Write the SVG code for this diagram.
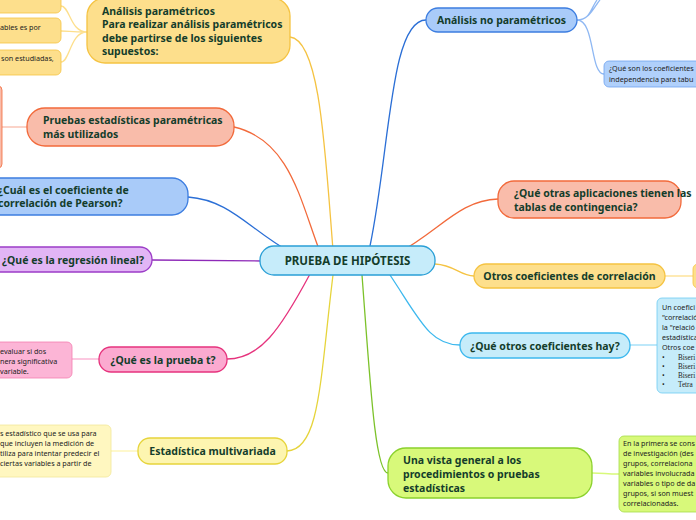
<svg xmlns="http://www.w3.org/2000/svg" width="696" height="520" viewBox="0 0 696 520">
<style>
.t{font-family:"Noto Sans","Open Sans",sans-serif;font-weight:bold;font-size:10.5px;fill:#143d2b}
.s{font-family:"Noto Sans","Open Sans",sans-serif;font-size:7.2px;fill:#222}
.c{fill:none;stroke-width:1.3}
</style>
<rect width="696" height="520" fill="#fff"/>
<g id="connectors">
<path class="c" stroke="#f5c342" d="M333,250 C325,150 320,40 290,37"/>
<path class="c" stroke="#f26a3b" d="M320,252 C300,200 290,140 234,127"/>
<path class="c" stroke="#2b6fd6" d="M290,252 C250,230 230,200 188,197"/>
<path class="c" stroke="#8e2ab8" d="M262,261 L152,260"/>
<path class="c" stroke="#e6337d" d="M310,274 C280,330 260,359 227,359"/>
<path class="c" stroke="#e6d43b" d="M333,275 C320,380 320,450 287,451"/>
<path class="c" stroke="#2b6fd6" d="M370,246 C390,150 390,20 426,20"/>
<path class="c" stroke="#f26a3b" d="M400,252 C440,230 460,200 498,199"/>
<path class="c" stroke="#f5c342" d="M435,264 C455,265 460,276 474,276"/>
<path class="c" stroke="#3cb8ee" d="M390,275 C420,320 430,345 460,345"/>
<path class="c" stroke="#7cc22a" d="M362,275 C370,380 375,473 388,473"/>
<path class="c" stroke="#fddf8c" d="M87,32 C70,32 70,6 61,6 M87,32 C70,32 70,31 61,31 M87,32 C70,32 70,62 61,62"/>
<path class="c" stroke="#f9bcaa" d="M27,127 L2,127"/>
<path class="c" stroke="#fbaad0" d="M99,359 L72,359"/>
<path class="c" stroke="#fdf5b0" d="M138,451 L111,451"/>
<path class="c" stroke="#8fb8f3" d="M577,20 C590,20 590,10 597,0 M577,20 C590,20 595,5 600,0 M577,20 C595,20 590,74 604,74"/>
<path class="c" stroke="#fddf8c" d="M665,276 L693,276"/>
<path class="c" stroke="#9adcf7" d="M630,345 L657,345"/>
<path class="c" stroke="#d8f97a" d="M592,473 C605,473 605,474 619,474"/>
</g>
<g id="sub">
<rect x="-10" y="-12" width="71" height="25" rx="5" fill="#fddf8c" stroke="#f5c342" stroke-width="0.8"/>
<rect x="-10" y="18" width="71" height="25" rx="5" fill="#fddf8c" stroke="#f5c342" stroke-width="0.8"/>
<text class="s" x="0" y="30">ables es por</text>
<rect x="-10" y="50" width="71" height="25" rx="5" fill="#fddf8c" stroke="#f5c342" stroke-width="0.8"/>
<text class="s" x="1" y="61">son estudiadas,</text>
<rect x="-10" y="86" width="12" height="82" rx="4" fill="#f9bcaa" stroke="#f26a3b" stroke-width="0.8"/>
<rect x="-10" y="342" width="82" height="36" rx="5" fill="#fcb5d6" stroke="#f47db0" stroke-width="0.8"/>
<text class="s" x="0" y="354">evaluar si dos</text>
<text class="s" x="0" y="364">nera significativa</text>
<text class="s" x="0" y="374">variable.</text>
<rect x="-10" y="425" width="121" height="52" rx="5" fill="#fff7c0" stroke="#f1e79a" stroke-width="0.8"/>
<text class="s" x="0" y="436">s estadístico que se usa para</text>
<text class="s" x="0" y="446">que incluyen la medición de</text>
<text class="s" x="0" y="456">tiliza para intentar predecir el</text>
<text class="s" x="0" y="466">ciertas variables a partir de</text>
<rect x="604" y="61" width="110" height="26" rx="5" fill="#b0d0fb" stroke="#6ea2ef" stroke-width="0.8"/>
<text class="s" x="609" y="71">¿Qué son los coeficientes</text>
<text class="s" x="609" y="82">independencia para tabu</text>
<rect x="693" y="264" width="20" height="24" rx="5" fill="#fddf8c" stroke="#f5c342" stroke-width="0.8"/>
<rect x="657" y="298" width="60" height="95" rx="5" fill="#c6ecfa" stroke="#6ccbf3" stroke-width="0.8"/>
<text class="s" x="662" y="310">Un coefici</text>
<text class="s" x="662" y="320">"correlació</text>
<text class="s" x="662" y="330">la "relació</text>
<text class="s" x="662" y="340">estadística</text>
<text class="s" x="662" y="350">Otros coe</text>
<text class="s" x="662" y="360">•</text><text class="s" x="678" y="360" style="font-family:'Liberation Serif',serif">Biseri</text>
<text class="s" x="662" y="369">•</text><text class="s" x="678" y="369" style="font-family:'Liberation Serif',serif">Biseri</text>
<text class="s" x="662" y="378">•</text><text class="s" x="678" y="378" style="font-family:'Liberation Serif',serif">Biseri</text>
<text class="s" x="662" y="387">•</text><text class="s" x="678" y="387" style="font-family:'Liberation Serif',serif">Tetra</text>
<rect x="619" y="436" width="90" height="76" rx="5" fill="#d8f97a" stroke="#a5dc4a" stroke-width="0.8"/>
<text class="s" x="623" y="446">En la primera se cons</text>
<text class="s" x="623" y="456">de investigación (des</text>
<text class="s" x="623" y="466">grupos, correlaciona</text>
<text class="s" x="623" y="476">variables involucrada</text>
<text class="s" x="623" y="486">variables o tipo de da</text>
<text class="s" x="623" y="496">grupos, si son muest</text>
<text class="s" x="623" y="506">correlacionadas.</text>
</g>
<g id="center"><rect x="260" y="246" width="175" height="29" rx="14" fill="#c6ecfa" stroke="#2a9fd6" stroke-width="1.3"/><text class="t" x="347.5" y="265" text-anchor="middle" style="font-size:11.5px">PRUEBA DE HIPÓTESIS</text></g>
<g id="n1"><rect x="87" y="-2" width="203" height="65" rx="18" fill="#fddf8c" stroke="#f5c342" stroke-width="1.3"/><text class="t" x="102" y="15">Análisis paramétricos</text><text class="t" x="102" y="28">Para realizar análisis paramétricos</text><text class="t" x="102" y="42">debe partirse de los siguientes</text><text class="t" x="102" y="55">supuestos:</text></g>
<g id="n2"><rect x="27" y="108" width="207" height="38" rx="18" fill="#f9bcaa" stroke="#f26a3b" stroke-width="1.3"/><text class="t" x="43" y="124">Pruebas estadísticas paramétricas</text><text class="t" x="43" y="138">más utilizados</text></g>
<g id="n3"><rect x="-20" y="178" width="208" height="37" rx="16" fill="#a9cbf9" stroke="#3c7de0" stroke-width="1.3"/><text class="t" x="-2" y="194">¿Cuál es el coeficiente de</text><text class="t" x="-2" y="207">correlación de Pearson?</text></g>
<g id="n4"><rect x="-20" y="247" width="172" height="25" rx="12" fill="#e2b5f5" stroke="#9c3dc7" stroke-width="1.3"/><text class="t" x="2" y="264">¿Qué es la regresión lineal?</text></g>
<g id="n5"><rect x="99" y="347" width="128" height="25" rx="12" fill="#fbaad0" stroke="#e6337d" stroke-width="1.3"/><text class="t" x="163" y="364" text-anchor="middle">¿Qué es la prueba t?</text></g>
<g id="n6"><rect x="138" y="438" width="149" height="26" rx="12" fill="#fdf5b0" stroke="#e6d43b" stroke-width="1.3"/><text class="t" x="212.5" y="455" text-anchor="middle">Estadística multivariada</text></g>
<g id="n7"><rect x="426" y="8" width="151" height="24" rx="12" fill="#a9cbf9" stroke="#3c7de0" stroke-width="1.3"/><text class="t" x="501.5" y="24" text-anchor="middle">Análisis no paramétricos</text></g>
<g id="n8"><rect x="498" y="181" width="183" height="37" rx="16" fill="#f9bcaa" stroke="#f26a3b" stroke-width="1.3"/><text class="t" x="514" y="197">¿Qué otras aplicaciones tienen las</text><text class="t" x="514" y="211">tablas de contingencia?</text></g>
<g id="n9"><rect x="474" y="264" width="191" height="24" rx="12" fill="#fddf8c" stroke="#f5c342" stroke-width="1.3"/><text class="t" x="569.5" y="280" text-anchor="middle">Otros coeficientes de correlación</text></g>
<g id="n10"><rect x="460" y="333" width="170" height="25" rx="12" fill="#c6ecfa" stroke="#3cb8ee" stroke-width="1.3"/><text class="t" x="545" y="350" text-anchor="middle">¿Qué otros coeficientes hay?</text></g>
<g id="n11"><rect x="388" y="448" width="204" height="50" rx="18" fill="#d8f97a" stroke="#8bd12d" stroke-width="1.3"/><text class="t" x="403" y="464">Una vista general a los</text><text class="t" x="403" y="478">procedimientos o pruebas</text><text class="t" x="403" y="492">estadísticas</text></g>
</svg>
